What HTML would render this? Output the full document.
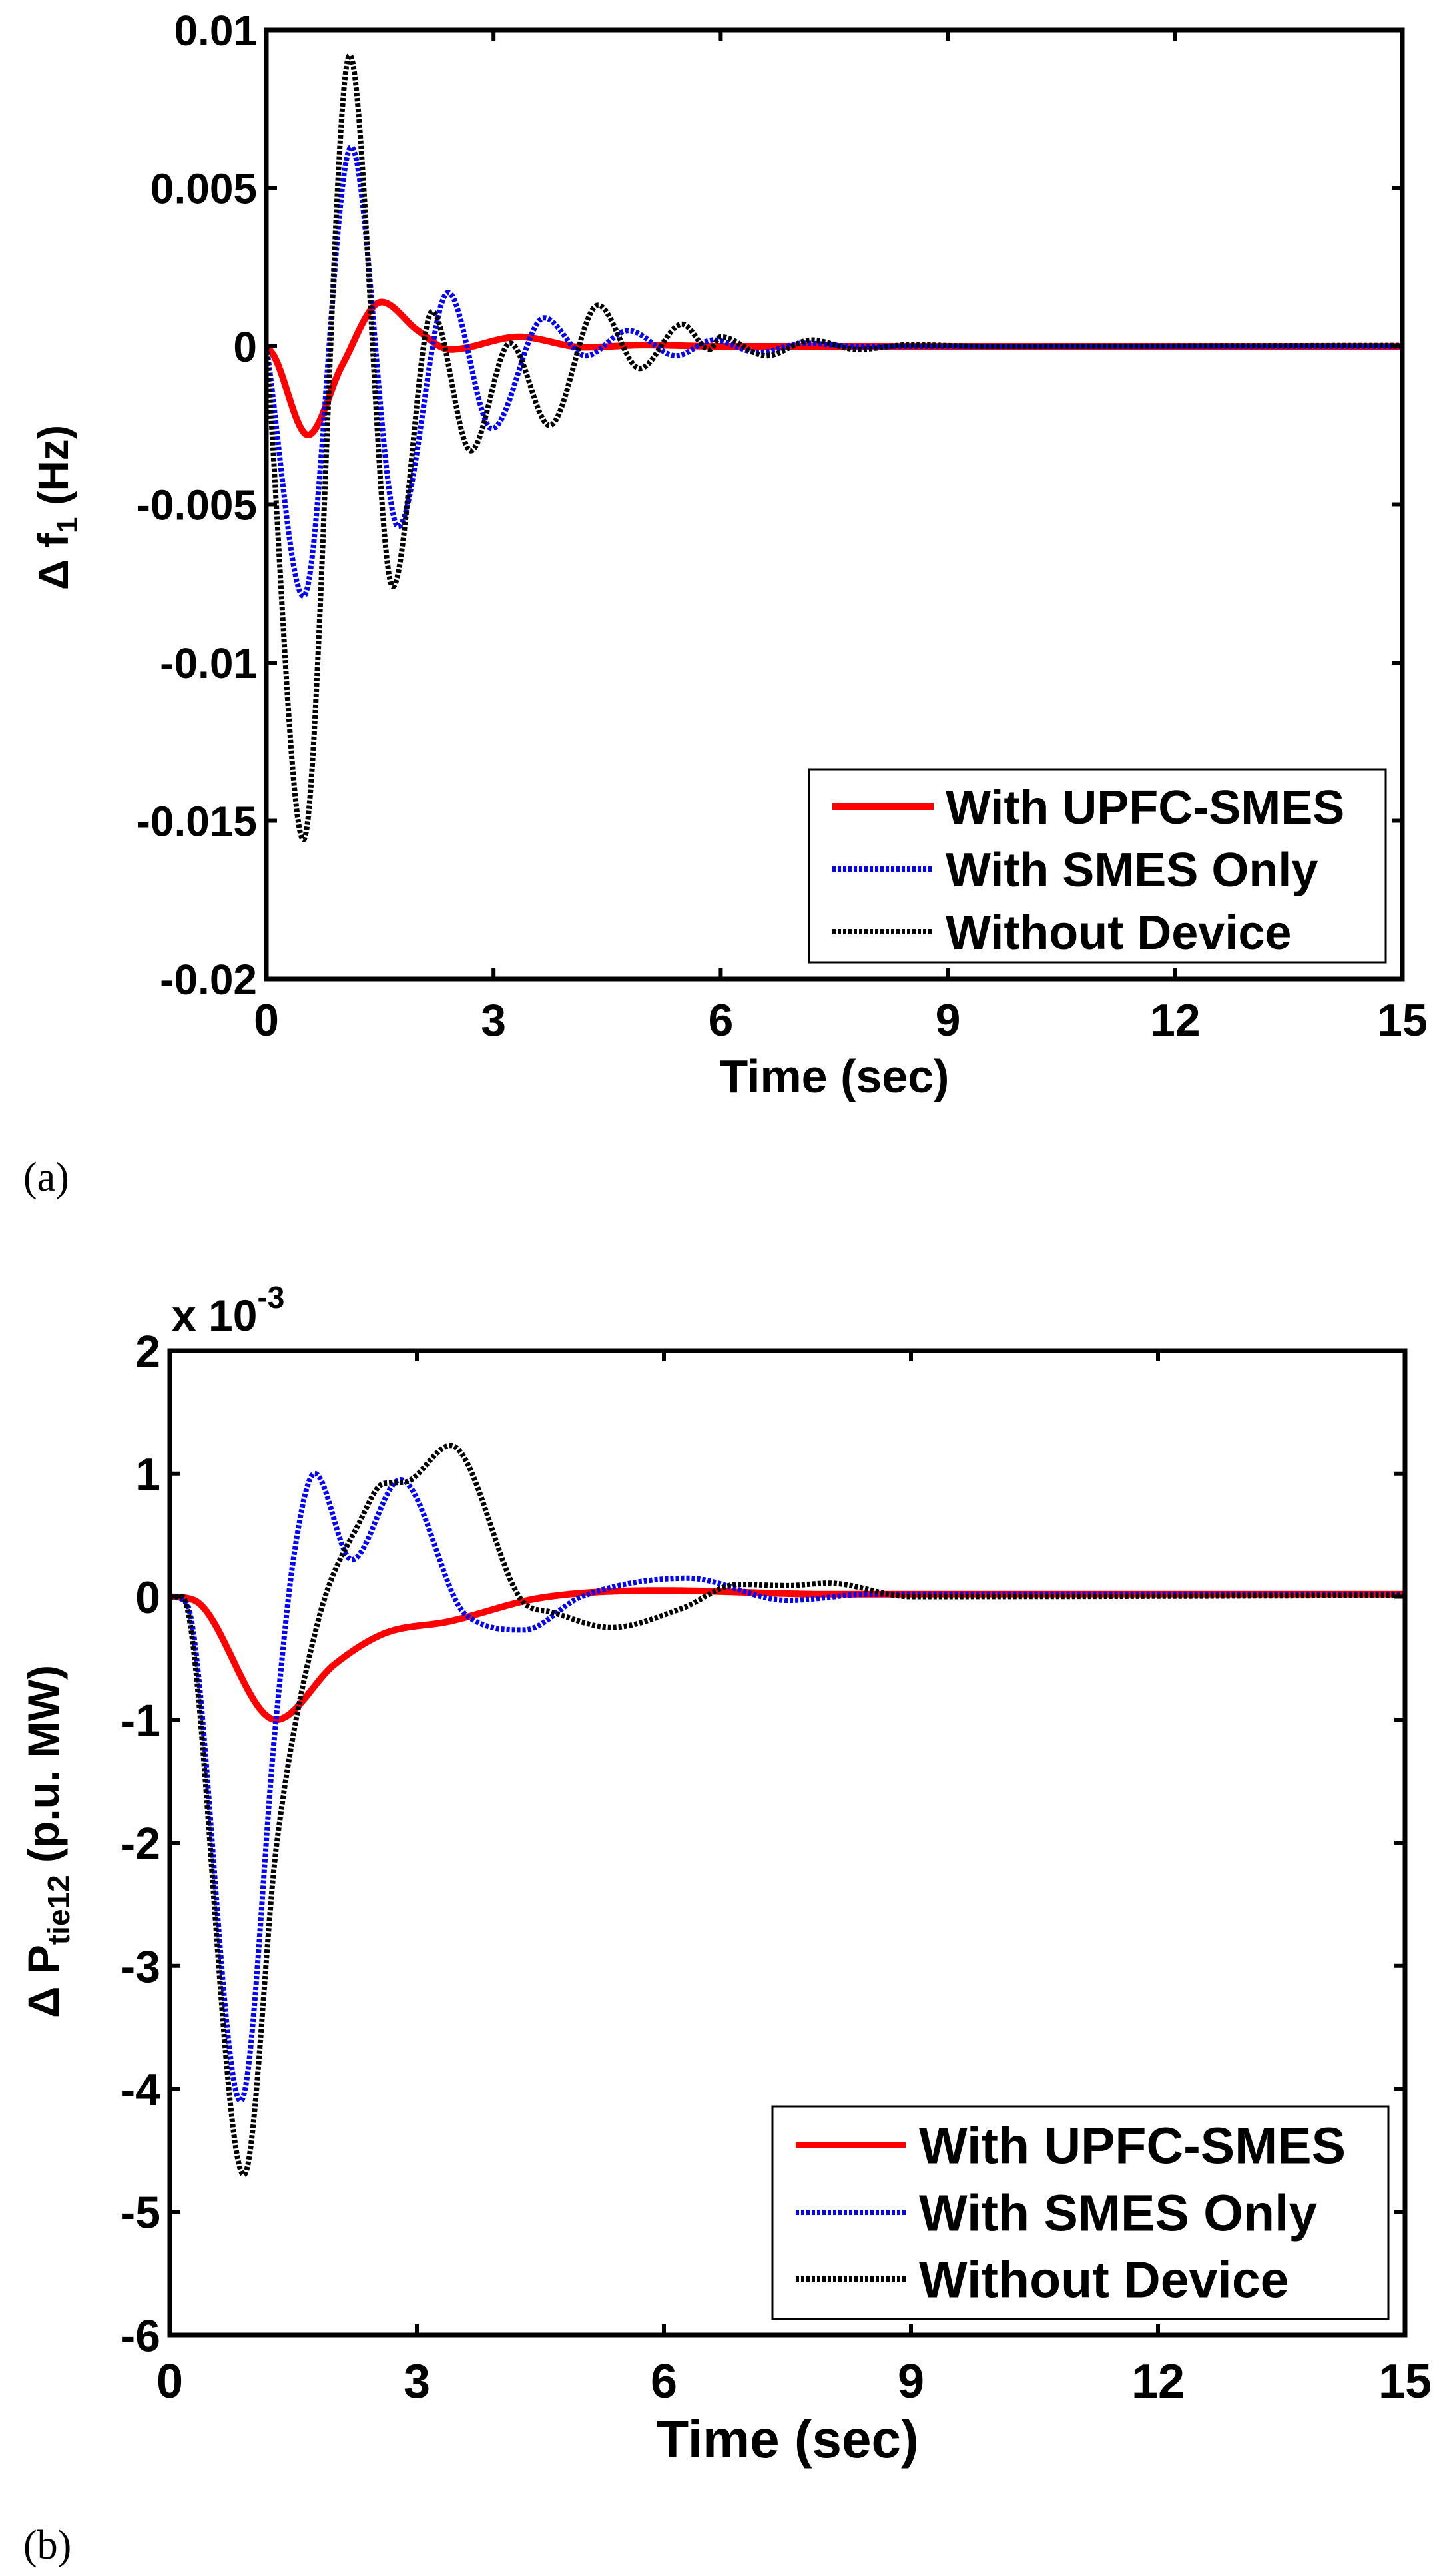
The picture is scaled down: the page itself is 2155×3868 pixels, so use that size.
<!DOCTYPE html>
<html><head><meta charset="utf-8"><style>
html,body{margin:0;padding:0;background:#fff}
svg{display:block}
text{font-family:"Liberation Sans",Arial,sans-serif;font-weight:bold;fill:#000}
.ser{font-family:"Liberation Serif",serif;font-weight:normal}
</style></head><body>
<svg id="s" width="2155" height="3868" viewBox="0 0 2155 3868" xmlns="http://www.w3.org/2000/svg">
<g id="a"></g>
<g id="b"></g>
<text class="ser" x="35" y="1788" font-size="62">(a)</text>
<text class="ser" x="35" y="3842" font-size="62">(b)</text>
</svg>
<script>
const NS="http://www.w3.org/2000/svg";
function el(p,tag,attrs,txt){const e=document.createElementNS(NS,tag);for(const k in attrs)e.setAttribute(k,attrs[k]);if(txt!==undefined)e.textContent=txt;p.appendChild(e);return e;}
function mono(pts){ // Fritsch-Carlson monotone cubic
  const n=pts.length,x=pts.map(p=>p[0]),y=pts.map(p=>p[1]);const d=[],m=[];
  for(let i=0;i<n-1;i++)d.push((y[i+1]-y[i])/(x[i+1]-x[i]));
  m[0]=d[0];m[n-1]=d[n-2];
  for(let i=1;i<n-1;i++){ if(d[i-1]*d[i]<=0)m[i]=0; else m[i]=(d[i-1]+d[i])/2; }
  for(let i=0;i<n-1;i++){ if(d[i]===0){m[i]=0;m[i+1]=0;continue;} const a=m[i]/d[i],b=m[i+1]/d[i],s=a*a+b*b; if(s>9){const t=3/Math.sqrt(s);m[i]=t*a*d[i];m[i+1]=t*b*d[i];}}
  return function(t){let i=0;while(i<n-2&&t>x[i+1])i++;const h=x[i+1]-x[i],u=(t-x[i])/h;
    const h00=2*u*u*u-3*u*u+1,h10=u*u*u-2*u*u+u,h01=-2*u*u*u+3*u*u,h11=u*u*u-u*u;
    return h00*y[i]+h10*h*m[i]+h01*y[i+1]+h11*h*m[i+1];};
}
function plot(g,P){
  const X=t=>P.x0+(P.x1-P.x0)*t/15, Y=v=>P.y1-(P.y1-P.y0)*(v-P.vmin)/(P.vmax-P.vmin);
  // series
  P.series.forEach(s=>{const f=mono(s.pts);let d="";for(let t=0;t<=15;t+=0.01){d+=(d?"L":"M")+X(t).toFixed(1)+" "+Y(f(t)).toFixed(1);}
    el(g,"path",{d:d,fill:"none",stroke:s.c,"stroke-width":s.w,"stroke-dasharray":s.dash||"none","stroke-linejoin":"round"});});
  // axes box
  el(g,"rect",{x:P.x0,y:P.y0,width:P.x1-P.x0,height:P.y1-P.y0,fill:"none",stroke:"#000","stroke-width":7});
  for(let k=0;k<=5;k++){const x=X(3*k);
    el(g,"line",{x1:x,y1:P.y1,x2:x,y2:P.y1-16,stroke:"#000","stroke-width":6});
    el(g,"line",{x1:x,y1:P.y0,x2:x,y2:P.y0+16,stroke:"#000","stroke-width":6});
    el(g,"text",{x:x,y:P.xty,"font-size":P.xfs,"text-anchor":"middle"},String(3*k));}
  P.yt.forEach(([v,l])=>{const y=Y(v);
    el(g,"line",{x1:P.x0,y1:y,x2:P.x0+16,y2:y,stroke:"#000","stroke-width":6});
    el(g,"line",{x1:P.x1,y1:y,x2:P.x1-16,y2:y,stroke:"#000","stroke-width":6});
    el(g,"text",{x:P.x0-14,y:y+P.yfs*0.36,"font-size":P.yfs,"text-anchor":"end"},l);});
  el(g,"text",{x:(P.x0+P.x1)/2,y:P.xly,"font-size":P.xlfs,"text-anchor":"middle"},"Time (sec)");
  // legend
  const L=P.leg;el(g,"rect",{x:L.x0,y:L.y0,width:L.x1-L.x0,height:L.y1-L.y0,fill:"#fff",stroke:"#000","stroke-width":3});
  P.series.forEach((s,i)=>{const y=L.ys[i];
    el(g,"line",{x1:L.lx0,y1:y,x2:L.lx1,y2:y,stroke:s.c,"stroke-width":s.w,"stroke-dasharray":s.dash||"none"});
    el(g,"text",{x:L.tx,y:y+L.fs*0.36,"font-size":L.fs},s.name);});
}
const names=["With UPFC-SMES","With SMES Only","Without Device"];
plot(document.getElementById("a"),{x0:400,x1:2106,y0:45,y1:1470,vmin:-0.02,vmax:0.01,xty:1555,xfs:68,yfs:64,xly:1640,xlfs:70,
 yt:[[0.01,"0.01"],[0.005,"0.005"],[0,"0"],[-0.005,"-0.005"],[-0.01,"-0.01"],[-0.015,"-0.015"],[-0.02,"-0.02"]],
 series:[
  {name:names[0],c:"#ff0000",w:10,pts:[[0,0],[0.1,-0.0003],[0.55,-0.0028],[1.0,-0.0006],[1.52,0.0014],[2.0,0.0005],[2.43,-0.0001],[3.34,0.0003],[4.2,-0.00003],[5,0.00004],[6,0],[15,0]]},
  {name:names[1],c:"#0000ff",w:8,dash:"5 3",pts:[[0,0],[0.49,-0.0079],[1.12,0.0063],[1.74,-0.0057],[2.40,0.0017],[2.98,-0.0026],[3.67,0.0009],[4.22,-0.0003],[4.78,0.0005],[5.41,-0.0003],[5.9,0.0002],[6.5,-0.0002],[7.1,0.0001],[7.8,0],[15,0]]},
  {name:names[2],c:"#000000",w:8,dash:"5 3",pts:[[0,0],[0.49,-0.0156],[1.10,0.0092],[1.67,-0.0076],[2.19,0.0011],[2.70,-0.0033],[3.22,0.0001],[3.74,-0.0025],[4.38,0.0013],[4.93,-0.0007],[5.49,0.0007],[5.85,-0.0001],[6.0,0.0003],[6.6,-0.0003],[7.2,0.0002],[7.8,-0.0001],[8.5,0.00005],[9.5,0],[15,0.00003]]}],
 leg:{x0:1215,x1:2081,y0:1155,y1:1445,ys:[1211,1305,1399],lx0:1250,lx1:1402,tx:1420,fs:72}});
plot(document.getElementById("b"),{x0:255,x1:2110,y0:2028,y1:3506,vmin:-6,vmax:2,xty:3600,xfs:72,yfs:68,xly:3690,xlfs:80,
 yt:[[2,"2"],[1,"1"],[0,"0"],[-1,"-1"],[-2,"-2"],[-3,"-3"],[-4,"-4"],[-5,"-5"],[-6,"-6"]],
 series:[
  {name:names[0],c:"#ff0000",w:10,pts:[[0,0],[0.3,-0.03],[1.29,-1.0],[2.0,-0.55],[2.6,-0.3],[3.4,-0.2],[4.5,-0.01],[6.0,0.05],[8,0.02],[15,0.02]]},
  {name:names[1],c:"#0000ff",w:8,dash:"5 3",pts:[[0,0],[0.2,-0.05],[0.86,-4.1],[1.29,-1.0],[1.5,0.3],[1.76,1.0],[2.21,0.3],[2.80,0.95],[3.6,-0.15],[4.3,-0.27],[5.0,0],[6.29,0.15],[7.5,-0.03],[8.5,0.02],[15,0.02]]},
  {name:names[2],c:"#000000",w:8,dash:"5 3",pts:[[0,0],[0.15,0],[0.9,-4.7],[1.3,-2.0],[1.8,-0.2],[2.3,0.6],[2.6,0.92],[2.85,0.93],[3.41,1.23],[4.3,-0.05],[4.6,-0.12],[5.36,-0.25],[6.2,-0.1],[6.9,0.1],[7.5,0.09],[8.0,0.11],[9,0],[15,0.01]]}],
 leg:{x0:1160,x1:2085,y0:3163,y1:3482,ys:[3221,3322,3422],lx0:1195,lx1:1360,tx:1380,fs:77}});
const s=document.getElementById("s");
// y labels
const ya=el(s,"text",{transform:"translate(102,762) rotate(-90)","font-size":64,"text-anchor":"middle"});
ya.innerHTML='Δ f<tspan font-size="44" dy="14">1</tspan><tspan dy="-14"> (Hz)</tspan>';
const yb=el(s,"text",{transform:"translate(88,2765) rotate(-90)","font-size":66,"text-anchor":"middle"});
yb.innerHTML='Δ P<tspan font-size="46" dy="16">tie12</tspan><tspan dy="-16"> (p.u. MW)</tspan>';
const ex=el(s,"text",{x:258,y:1998,"font-size":66});
ex.innerHTML='x 10<tspan font-size="46" dy="-34">-3</tspan>';
</script>
</body></html>
